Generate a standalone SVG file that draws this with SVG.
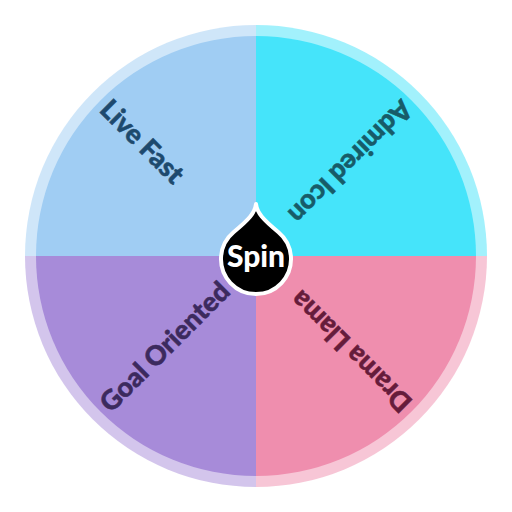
<svg xmlns="http://www.w3.org/2000/svg" width="512" height="512" viewBox="0 0 512 512">
<style>
.lbl{font-family:"Lato","Noto Sans","DejaVu Sans",sans-serif;font-weight:900;font-size:27px;stroke-width:0.5}
.ring{opacity:0.5}
</style>
<rect width="512" height="512" fill="#ffffff"/>
<g id="slice-live-fast">
<path class="ring" d="M256 256 L256 25 A231 231 0 0 0 25 256 Z" fill="#A0CDF3"/>
<path d="M256 256 L256 36 A220 220 0 0 0 36 256 Z" fill="#A0CDF3"/>
<text class="lbl" fill="#1D4A6E" stroke="#1D4A6E" transform="translate(256 256) rotate(45)" x="-214" y="9">Live Fast</text>
</g>
<g id="slice-admired-icon">
<path class="ring" d="M256 256 L487 256 A231 231 0 0 0 256 25 Z" fill="#45E4FA"/>
<path d="M256 256 L476 256 A220 220 0 0 0 256 36 Z" fill="#45E4FA"/>
<text class="lbl" fill="#175C69" stroke="#175C69" transform="translate(256 256) rotate(135)" x="-214" y="9">Admired Icon</text>
</g>
<g id="slice-drama-llama">
<path class="ring" d="M256 256 L256 487 A231 231 0 0 0 487 256 Z" fill="#EF8EAE"/>
<path d="M256 256 L256 476 A220 220 0 0 0 476 256 Z" fill="#EF8EAE"/>
<text class="lbl" fill="#661C3B" stroke="#661C3B" transform="translate(256 256) rotate(225)" x="-214" y="9">Drama Llama</text>
</g>
<g id="slice-goal-oriented">
<path class="ring" d="M256 256 L25 256 A231 231 0 0 0 256 487 Z" fill="#A78BD9"/>
<path d="M256 256 L36 256 A220 220 0 0 0 256 476 Z" fill="#A78BD9"/>
<text class="lbl" fill="#3C2A5E" stroke="#3C2A5E" transform="translate(256 256) rotate(-45)" x="-214" y="9">Goal Oriented</text>
</g>
<g id="spin-button">
<path d="M256 204 C257 213 263.2 219.4 278.5 232.2 A35 35 0 1 1 233.5 232.2 C248.8 219.4 255 213 256 204 Z" fill="#000000" stroke="#ffffff" stroke-width="4" stroke-linejoin="round"/>
<text x="256" y="267" text-anchor="middle" font-family="Lato,'Noto Sans','DejaVu Sans',sans-serif" font-weight="900" font-size="30" fill="#ffffff">Spin</text>
</g>
</svg>
